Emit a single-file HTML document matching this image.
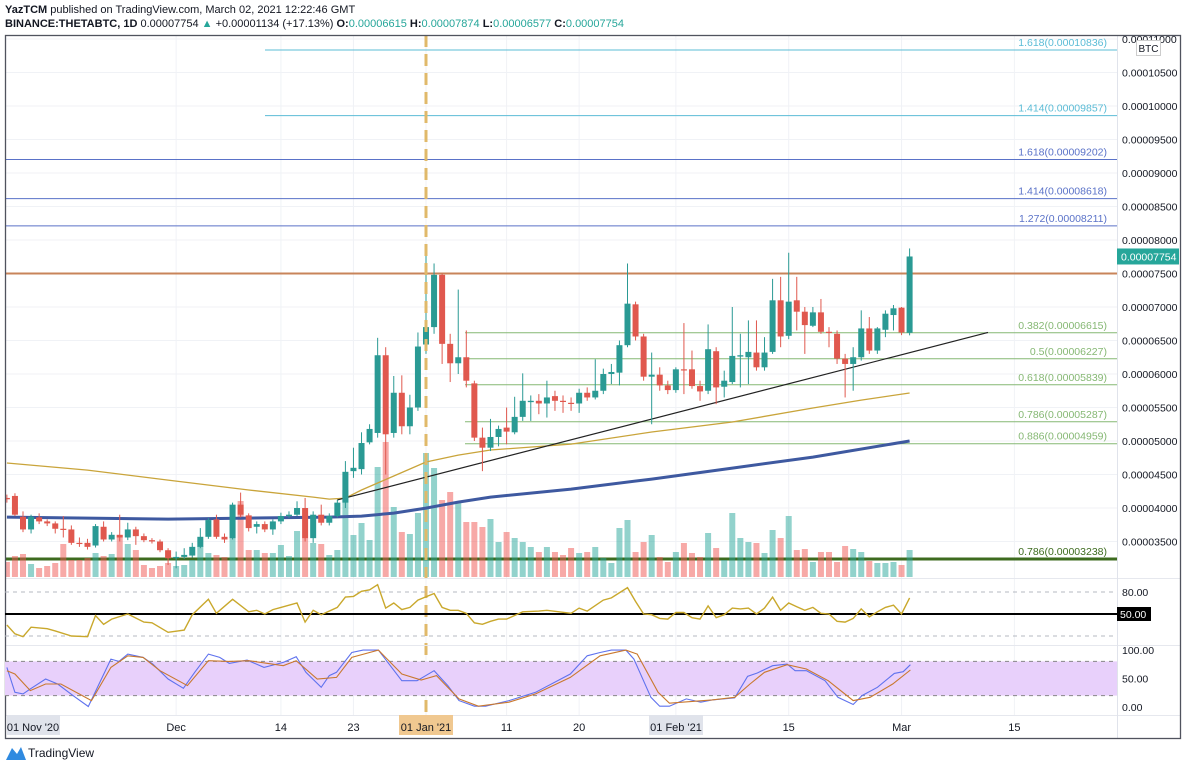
<!DOCTYPE html>
<html><head><meta charset="utf-8">
<style>
html,body{margin:0;padding:0;background:#fff;width:1185px;height:768px;overflow:hidden;font-family:"Liberation Sans",sans-serif;}
#hdr1{position:absolute;left:5px;top:4px;font-size:11px;color:#131722;}
#hdr2{position:absolute;left:5px;top:18px;font-size:11px;color:#131722;}
#hdr2 .v{color:#26a69a;}
#hdr2 b{font-weight:bold;}
svg{position:absolute;left:0;top:0;}
</style></head><body>
<div id="hdr1"><b>YazTCM</b> published on TradingView.com, March 02, 2021 12:22:46 GMT</div>
<div id="hdr2"><b>BINANCE:THETABTC, 1D</b> 0.00007754 <span class="v">▲</span> +0.00001134 (+17.13%) <b>O:</b><span class="v">0.00006615</span> <b>H:</b><span class="v">0.00007874</span> <b>L:</b><span class="v">0.00006577</span> <b>C:</b><span class="v">0.00007754</span></div>
<svg id="chart" width="1185" height="768" xmlns="http://www.w3.org/2000/svg"></svg>
<script>
// ---- data (prices in 1e-8 BTC) ----
const opens=[4150,4180,3870,3680,3860,3800,3770,3690,3680,3480,3480,3440,3720,3530,3600,3560,3680,3580,3520,3500,3370,3250,3270,3290,3420,3570,3830,3570,3550,4050,3890,3720,3760,3680,3800,3880,3900,4000,3550,3900,3780,3880,4080,4550,4580,4980,5120,6280,5120,5720,5220,5500,6440,6700,7480,6450,6160,6250,5860,5050,4900,5060,5200,5130,5360,5580,5600,5560,5670,5600,5570,5560,5720,5650,5750,6000,6020,6430,7040,6560,5960,5990,5830,5760,6070,6070,5820,5750,6340,5810,5880,6260,6250,6320,6100,6330,7100,6570,7100,6930,6720,6920,6630,6600,6230,6150,6250,6680,6350,6660,6880,6990,6615];
const closes=[4130,3900,3680,3870,3800,3770,3690,3680,3480,3470,3420,3730,3530,3600,3560,3680,3580,3520,3500,3370,3250,3270,3300,3420,3570,3820,3570,3530,4050,3900,3700,3760,3680,3800,3880,3900,4000,3550,3900,3780,3880,4080,4540,4600,4970,5180,6280,5100,5720,5220,5500,6410,6700,7480,6450,6160,6250,5900,5050,4900,5060,5180,5140,5360,5600,5600,5560,5650,5600,5590,5560,5720,5650,5750,6000,6030,6430,7050,6560,5960,5990,5830,5760,6070,6060,5820,5740,6370,5800,5900,6270,6280,6330,6100,6320,7100,6560,7080,6930,6730,6920,6630,6620,6230,6150,6250,6680,6350,6680,6900,6980,6620,7754];
const highs=[4200,4220,3950,3900,3920,3830,3800,3880,3740,3560,3540,3760,3800,3640,3900,3780,3720,3620,3550,3530,3400,3350,3400,3480,3700,3850,3900,3620,4080,4230,3920,3800,3800,3830,3930,3950,4100,4150,3950,4050,3920,4120,4700,4900,5130,5250,6540,6400,5970,5980,5690,6620,7800,7650,7500,6600,7260,6650,5900,5200,5330,5230,5500,5660,6010,5680,5700,5900,5750,5680,5650,5780,5800,6220,6080,6150,6500,7650,7080,6600,6320,6100,5900,6100,6760,6350,5900,6740,6400,6050,7000,6600,6800,6800,6550,7420,7450,7810,7450,7000,7000,7120,6700,6650,6300,6400,6950,6850,6700,6950,7030,7000,7874];
const lows=[4080,3880,3640,3620,3760,3730,3620,3560,3450,3420,3380,3410,3500,3500,3500,3520,3450,3490,3470,3340,3150,3100,3240,3260,3400,3540,3540,3480,3530,3860,3650,3620,3640,3600,3760,3850,3880,3500,3480,3740,3740,3860,4000,4450,4500,4950,5050,4500,5050,5100,5100,5450,6300,6600,6150,5880,6000,5800,5000,4550,4850,4920,4950,5100,5300,5300,5400,5350,5450,5420,5450,5420,5600,5620,5700,5850,5830,6400,6500,5900,5250,5750,5700,5720,5700,5780,5600,5700,5550,5650,5850,5800,5850,6050,6050,6300,6400,6520,6650,6300,6700,6600,6400,6150,5650,5750,6200,6300,6300,6550,6650,6580,6577];
const volumes=[15,21,23,13,9,11,14,33,17,17,19,24,21,23,42,33,27,12,9,11,14,11,12,17,31,24,22,20,72,76,27,27,24,24,32,21,46,39,34,33,22,27,87,42,54,37,110,135,70,45,43,64,124,109,77,85,74,55,55,50,58,35,45,39,35,30,25,30,25,22,29,24,25,30,19,14,49,57,25,35,42,20,15,25,34,24,20,44,29,17,64,39,35,34,24,47,39,61,27,28,15,25,25,15,31,28,25,16,14,14,15,12,27];
const ma200Idx=[0,10,20,30,40,44,48,52,56,60,70,80,90,100,112];
const ma200Val=[3864,3849,3834,3849,3864,3879,3924,3999,4088,4163,4282,4432,4596,4760,5000];
const ma100Idx=[0,10,20,30,38,40,42,44,48,52,56,60,70,80,90,100,106,112];
const ma100Val=[4671,4566,4417,4268,4163,4133,4148,4268,4477,4686,4790,4865,4954,5134,5283,5492,5611,5716];
const rsiIdx=[0,1,2,3,5,6,8,10,11,12,13,15,17,18,20,22,23,25,26,28,30,31,32,33,34,36,37,38,39,41,42,43,44,45,46,47,48,49,50,51,53,54,55,56,57,58,59,60,61,62,64,66,67,70,71,72,74,75,77,78,79,80,81,82,83,84,85,86,87,88,89,90,91,92,93,94,95,96,97,98,99,100,101,102,103,104,105,106,107,108,109,110,111,112];
const rsiVal=[35,23,19,32,30,27,20,19,48,36,43,50,39,38,25,28,49,70,51,70,53,55,50,56,59,65,39,55,49,59,73,74,81,83,90,58,65,56,59,69,78,59,55,55,51,38,36,40,43,43,53,54,55,51,58,54,69,72,86,67,50,49,44,43,52,52,45,43,61,45,49,58,57,58,50,58,73,55,65,60,55,59,51,50,40,39,44,57,46,53,59,62,50,72];
const kIdx=[0,1,2,2.9,4.8,6.3,8.2,10.1,12.9,13.9,15,16.9,18.1,20,21.9,23.3,25,26.4,27.6,29.8,31.9,34.3,35.9,37.1,39,40,40.9,42.8,44.2,46.1,49,50.9,53,54.7,56.1,58,59.4,62.3,65.6,69.9,72,73.6,75,76.8,77.8,79.9,81,82.2,84.3,86.1,87.5,90.3,91.9,93.1,95,96.8,97.8,99.2,101.5,103.1,105,106.1,108,110.1,111.2,112.1];
const kVal=[69.5,25.8,22.9,31.7,49.1,40.4,20,0.8,84.1,80,92.8,87,75.3,49.1,32.8,60.8,92.8,87,76.5,82.3,69.5,78.3,88.2,60.8,34.6,55,60.8,95.7,99.8,99.8,46.2,46.2,63.7,37.5,11.3,1.4,1.4,11.3,25.8,57.9,89.9,95.7,99.8,99.8,84.1,17.1,1.4,1.4,14.2,8.4,12.4,15.9,53.8,59.6,72.4,75.3,63.7,63.7,46.2,17.1,4.3,20,34.6,59,61.9,74.2];
const dIdx=[0,1,2.9,4.8,6.7,10.5,12.9,15,16.9,19,22.4,25,27.6,30,34.3,35.9,38.5,40.9,42.8,46.1,49,51.4,53.3,56.1,58.5,62.3,65.6,69.9,73.6,76.8,78.2,80.8,82.2,83.8,87.5,90.3,92.2,94,96.8,99.2,101.9,105,107.1,109.9,112.1];
const dVal=[63.7,57.9,28.7,40.4,40.4,11.3,69.5,89.9,87,63.7,37.5,81.2,80,81.2,72.4,81.2,49.1,52,87,99.8,57.9,47.4,55,14.2,1.4,8.4,22.9,52,89.9,99.8,92.8,25.8,6.6,8.4,12.4,17.1,40.4,60.8,74.2,66.6,46.2,11.3,17.1,40.4,64.9];
const priceTicks=[11000,10500,10000,9500,9000,8500,8000,7500,7000,6500,6000,5500,5000,4500,4000,3500];
const fibLevels=[10836,9857,9202,8618,8211,6615,6227,5839,5287,4959,3238];
const fibLabels=["1.618","1.414","1.618","1.414","1.272","0.382","0.5","0.618","0.786","0.886","0.786"];
const dateLabels=["Dec","14","23","11","20","15","Mar","15"];
const dateDays=[-31,-18,-9,10,19,45,59,73]; // days from 01 Jan '21

// ---- scales ----
const X0=426, DX=8.06, JAN1IDX=52;
const xIdx=i=>X0+(i-JAN1IDX)*DX;
const xDay=d=>X0+d*DX;
const yP=p=>240+(8000-p)*0.067;
const yVol=v=>577-v;
const yRsi=v=>614-(v-50)*0.733;
const ySto=v=>707-v*0.57;
const fmt=p=>(p/1e8).toFixed(8);

const svg=document.getElementById('chart');
const NS='http://www.w3.org/2000/svg';
function mk(tag,attrs,parent){const e=document.createElementNS(NS,tag);for(const k in attrs)e.setAttribute(k,attrs[k]);(parent||svg).appendChild(e);return e;}

const defs=mk('defs',{});
const cp=mk('clipPath',{id:'mainclip'},defs);mk('rect',{x:5,y:35,width:1112,height:543},cp);
const cp2=mk('clipPath',{id:'plotclip'},defs);mk('rect',{x:5,y:35,width:1112,height:680},cp2);

const grid=mk('g',{});


priceTicks.forEach(p=>{const y=yP(p);if(y>36)mk('line',{x1:5,x2:1117,y1:y,y2:y,stroke:'#f0f2f6','stroke-width':1},grid);});
dateDays.concat([0,31]).forEach(d=>{const x=xDay(d);mk('line',{x1:x,x2:x,y1:35,y2:715,stroke:'#f0f2f6','stroke-width':1},grid);});

const fibs=mk('g',{'clip-path':'url(#mainclip)'});


fibLevels.forEach((p,i)=>{
  let col,x1=5,w=1;
  if(i<2){col='#5bbcd6';x1=265;}else if(i<5){col='#5a72c8';}else if(i<10){col='#86b874';x1=465;}else{col='#3d6b1f';w=3;}
  const y=yP(p);
  const ln=mk('line',{x1:x1,x2:1117,y1:y,y2:y,stroke:col,'stroke-width':w},fibs);
  
  
  const t=mk('text',{x:1107,y:y-4,'text-anchor':'end','font-size':10.5,fill:i==10?'#3d6b1f':col,'font-family':'Liberation Sans'},fibs);
  t.textContent=fibLabels[i]+'('+fmt(p)+')';
  
  
});
const res=mk('line',{x1:5,x2:1117,y1:yP(7500),y2:yP(7500),stroke:'#c8845a','stroke-width':2});



const vg=mk('g',{'clip-path':'url(#mainclip)'});


volumes.forEach((v,i)=>{
  const up=closes[i]>=opens[i];
  const r=mk('rect',{x:xIdx(i)-3,y:yVol(v),width:6,height:v,fill:up?'rgba(38,166,154,0.5)':'rgba(239,83,80,0.5)'},vg);
  
  
});

function linePath(idx,val,xf,yf){return idx.map((d,k)=>(k?'L':'M')+xf(d).toFixed(1)+','+yf(val[k]).toFixed(1)).join(' ');}
const ma100=mk('path',{d:linePath(ma100Idx,ma100Val,xIdx,yP),fill:'none',stroke:'#c9a43a','stroke-width':1.3,'clip-path':'url(#mainclip)'});


const ma200=mk('path',{d:linePath(ma200Idx,ma200Val,xIdx,yP),fill:'none',stroke:'#3e59a0','stroke-width':3,'clip-path':'url(#mainclip)'});



const tl=mk('line',{x1:xIdx(41),y1:yP(4120),x2:988,y2:yP(6620),stroke:'#222','stroke-width':1.2});



const cg=mk('g',{'clip-path':'url(#mainclip)'});


opens.forEach((o,i)=>{
  const c=closes[i],up=c>=o,col=up?'#2a9a94':'#e0584e',x=xIdx(i);
  const g=mk('g',{},cg);
  
  
  mk('line',{x1:x,x2:x,y1:yP(highs[i]),y2:yP(lows[i]),stroke:col,'stroke-width':1},g);
  const yt=yP(Math.max(o,c)),yb=yP(Math.min(o,c));
  mk('rect',{x:x-3,y:yt,width:6,height:Math.max(1.2,yb-yt),fill:col},g);
});

const jm=mk('line',{x1:426,x2:426,y1:35,y2:715,stroke:'#e0b96a','stroke-width':3,'stroke-dasharray':'12,7'});



mk('line',{x1:5,x2:1181,y1:578.5,y2:578.5,stroke:'#e6e8ee'});
mk('line',{x1:5,x2:1181,y1:645.5,y2:645.5,stroke:'#e6e8ee'});
mk('line',{x1:5,x2:1181,y1:715.5,y2:715.5,stroke:'#e6e8ee'});
mk('line',{x1:1117.5,x2:1117.5,y1:35,y2:739,stroke:'#e0e3eb'});
const fr=mk('rect',{x:5.5,y:35.5,width:1175,height:703,fill:'none',stroke:'#50535e','stroke-width':1.3});



const rg=mk('g',{});


[80,20].forEach(v=>mk('line',{x1:5,x2:1117,y1:yRsi(v),y2:yRsi(v),stroke:'#b5b8c0','stroke-dasharray':'4,4'},rg));
mk('line',{x1:5,x2:1117,y1:yRsi(50),y2:yRsi(50),stroke:'#000','stroke-width':2},rg);
const rl=mk('path',{d:linePath(rsiIdx,rsiVal,xIdx,yRsi),fill:'none',stroke:'#c9a82c','stroke-width':1.4,'clip-path':'url(#plotclip)'},rg);



const sg=mk('g',{});


mk('rect',{x:5,y:ySto(80),width:1112,height:ySto(20)-ySto(80),fill:'#e8d0fb'},sg);
[80,20].forEach(v=>mk('line',{x1:5,x2:1117,y1:ySto(v),y2:ySto(v),stroke:'#888','stroke-dasharray':'4,4'},sg));
const kl=mk('path',{d:linePath(kIdx,kVal,xIdx,ySto),fill:'none',stroke:'#5f72ee','stroke-width':1.1,'clip-path':'url(#plotclip)'},sg);


const dl=mk('path',{d:linePath(dIdx,dVal,xIdx,ySto),fill:'none',stroke:'#c9782e','stroke-width':1.1,'clip-path':'url(#plotclip)'},sg);



const ag=mk('g',{'font-size':10.5,'font-family':'Liberation Sans',fill:'#131722'});


priceTicks.forEach(p=>{const t=mk('text',{x:1122,y:yP(p)+4},ag);t.textContent=fmt(p);});
mk('rect',{x:1136.5,y:40.5,width:24,height:15,fill:'#fff',stroke:'#ccc'},ag);
const bt=mk('text',{x:1148.5,y:52,'text-anchor':'middle','font-size':10},ag);bt.textContent='BTC';
const cpb=mk('rect',{x:1117,y:yP(closes[112])-8,width:62,height:16,fill:'#26a69a'},ag);


const ct=mk('text',{x:1121,y:yP(closes[112])+4,fill:'#fff'},ag);ct.textContent=fmt(closes[112]);
[['80.00',yRsi(80)],['100.00',ySto(100)],['50.00',ySto(50)],['0.00',ySto(0)]].forEach(a=>{const t=mk('text',{x:1122,y:a[1]+4},ag);t.textContent=a[0];});
mk('rect',{x:1117,y:yRsi(50)-7,width:34,height:14,fill:'#000'},ag);
const r50=mk('text',{x:1120,y:yRsi(50)+4,fill:'#fff'},ag);r50.textContent='50.00';

const tg=mk('g',{'font-size':11,'font-family':'Liberation Sans',fill:'#131722'});


dateLabels.forEach((l,k)=>{const t=mk('text',{x:xDay(dateDays[k]),y:731,'text-anchor':'middle'},tg);t.textContent=l;});
mk('rect',{x:7,y:715,width:53,height:20,fill:'#e0e3eb'},tg);
const nv=mk('text',{x:33,y:731,'text-anchor':'middle'},tg);nv.textContent="01 Nov '20";
mk('rect',{x:399,y:715,width:54,height:20,fill:'#f0c890'},tg);
const jn=mk('text',{x:426,y:731,'text-anchor':'middle'},tg);jn.textContent="01 Jan '21";
mk('rect',{x:649,y:715,width:54,height:20,fill:'#e0e3eb'},tg);
const fb=mk('text',{x:676,y:731,'text-anchor':'middle'},tg);fb.textContent="01 Feb '21";

const lg=mk('g',{});


mk('path',{d:'M6 760 L12 748 L17 754 L21 747 L26 760 Z',fill:'#2f8ae0'},lg);
const lt=mk('text',{x:28,y:757,'font-size':12,'font-family':'Liberation Sans',fill:'#131722'},lg);lt.textContent='TradingView';
</script>
</body></html>
